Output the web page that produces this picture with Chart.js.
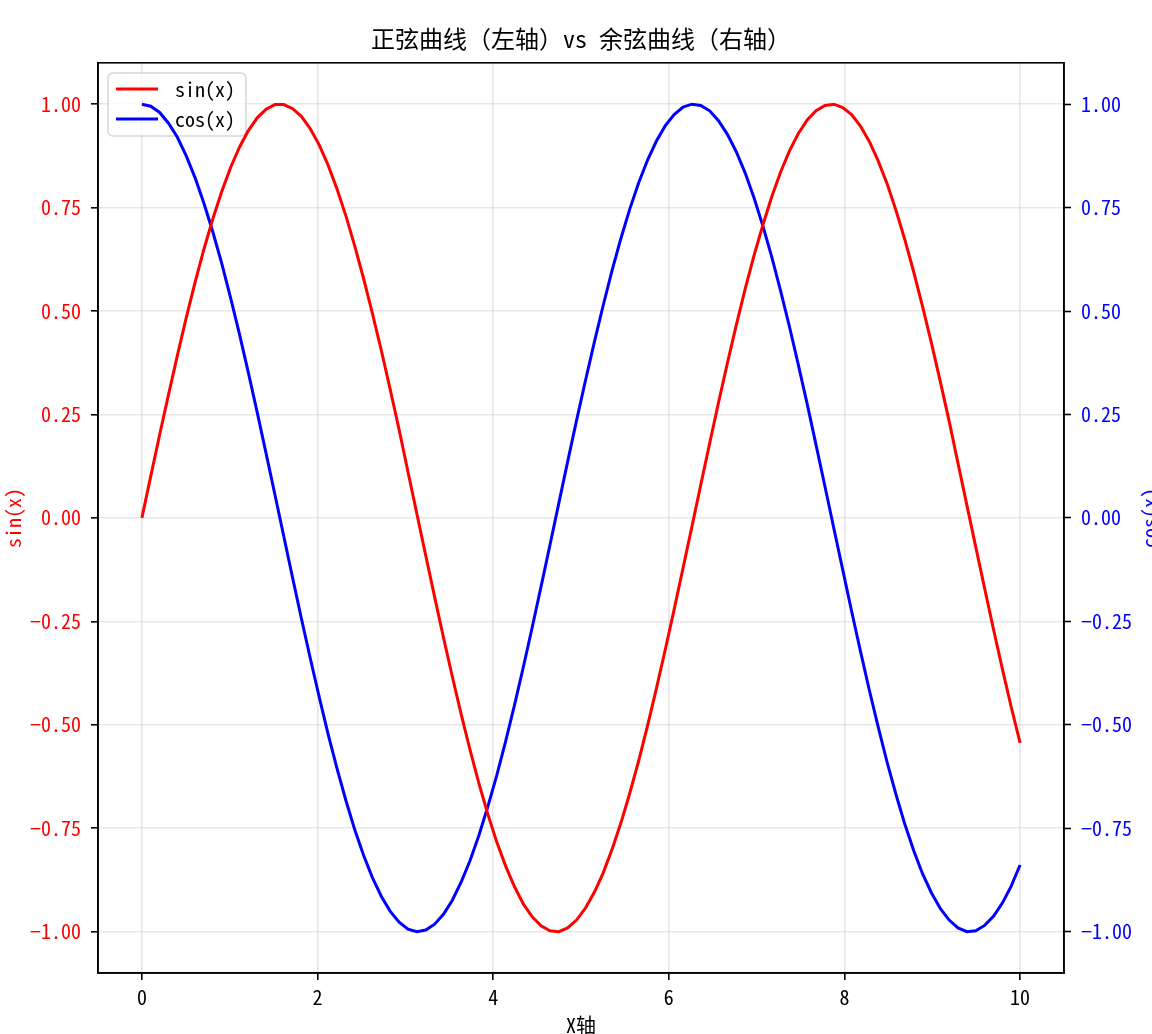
<!DOCTYPE html>
<html>
<head>
<meta charset="utf-8">
<script src="https://cdn.jsdelivr.net/npm/chart.js@4.4.1/dist/chart.umd.min.js"></script>
<style>
html,body{margin:0;padding:0;background:#fff;overflow:hidden;}
canvas{display:block;}
</style>
</head>
<body>
<canvas id="c" width="1152" height="1034"></canvas>
<script>
const titleText = '正弦曲线（左轴）vs 余弦曲线（右轴）';
const xLabel = 'X轴';
const sinLabel = 'sin(x)';
const cosLabel = 'cos(x)';

const xValues = [
0.000,0.101,0.202,0.303,0.404,0.505,0.606,0.707,0.808,0.909,
1.010,1.111,1.212,1.313,1.414,1.515,1.616,1.717,1.818,1.919,
2.020,2.121,2.222,2.323,2.424,2.525,2.626,2.727,2.828,2.929,
3.030,3.131,3.232,3.333,3.434,3.535,3.636,3.737,3.838,3.939,
4.040,4.141,4.242,4.343,4.444,4.545,4.646,4.747,4.848,4.949,
5.051,5.152,5.253,5.354,5.455,5.556,5.657,5.758,5.859,5.960,
6.061,6.162,6.263,6.364,6.465,6.566,6.667,6.768,6.869,6.970,
7.071,7.172,7.273,7.374,7.475,7.576,7.677,7.778,7.879,7.980,
8.081,8.182,8.283,8.384,8.485,8.586,8.687,8.788,8.889,8.990,
9.091,9.192,9.293,9.394,9.495,9.596,9.697,9.798,9.899,10.000];

const sinValues = [
0.000,0.101,0.201,0.298,0.393,0.484,0.570,0.650,0.723,0.789,
0.847,0.896,0.936,0.967,0.988,0.999,0.999,0.989,0.970,0.940,
0.901,0.852,0.795,0.730,0.657,0.578,0.493,0.404,0.310,0.213,
0.111,0.010,-0.091,-0.191,-0.289,-0.384,-0.475,-0.561,-0.642,-0.716,
-0.783,-0.841,-0.891,-0.933,-0.964,-0.986,-0.998,-1.000,-0.991,-0.972,
-0.943,-0.905,-0.858,-0.801,-0.737,-0.665,-0.587,-0.502,-0.412,-0.318,
-0.221,-0.121,-0.021,0.080,0.180,0.279,0.374,0.466,0.553,0.634,
0.708,0.776,0.836,0.887,0.929,0.962,0.984,0.997,1.000,0.992,
0.975,0.947,0.910,0.863,0.808,0.744,0.673,0.595,0.511,0.423,
0.330,0.234,0.132,0.031,-0.070,-0.170,-0.269,-0.365,-0.457,-0.544];

const cosValues = [
1.000,0.995,0.980,0.954,0.920,0.875,0.822,0.760,0.691,0.615,
0.532,0.444,0.351,0.255,0.156,0.056,-0.045,-0.146,-0.245,-0.341,
-0.434,-0.523,-0.606,-0.683,-0.754,-0.816,-0.870,-0.915,-0.951,-0.977,
-0.994,-1.000,-0.996,-0.982,-0.958,-0.924,-0.880,-0.828,-0.767,-0.698,
-0.623,-0.541,-0.453,-0.361,-0.265,-0.166,-0.066,0.035,0.136,0.235,
0.332,0.425,0.514,0.598,0.676,0.747,0.810,0.865,0.911,0.948,
0.975,0.993,1.000,0.997,0.984,0.960,0.927,0.885,0.834,0.774,
0.706,0.631,0.549,0.462,0.370,0.275,0.176,0.076,-0.025,-0.125,
-0.225,-0.322,-0.416,-0.505,-0.590,-0.668,-0.740,-0.804,-0.860,-0.906,
-0.944,-0.972,-0.991,-1.000,-0.998,-0.985,-0.963,-0.931,-0.890,-0.839];

const FONT = "'Noto Sans Mono CJK SC', 'Noto Sans CJK SC', sans-serif";
Chart.defaults.font.family = FONT;
Chart.defaults.color = '#000';

const GRID = 'rgba(176,176,176,0.3)';
const fmt = v => v.toFixed(2).replace('-', '\u2212');

const extras = {
  id: 'extras',
  beforeDatasetsDraw(chart) {
    const ctx = chart.ctx;
    const x0 = 108, y0 = 73, w = 138, h = 63, r = 5;
    ctx.save();
    ctx.beginPath();
    ctx.roundRect(x0, y0, w, h, r);
    ctx.fillStyle = 'rgba(255,255,255,0.8)';
    ctx.fill();
    ctx.lineWidth = 1.5;
    ctx.strokeStyle = 'rgba(204,204,204,0.8)';
    ctx.stroke();
    const items = [[sinLabel, 'red', 89], [cosLabel, 'blue', 119]];
    ctx.font = '20px ' + FONT;
    ctx.textBaseline = 'middle';
    ctx.textAlign = 'left';
    items.forEach(([t, c, y]) => {
      ctx.beginPath();
      ctx.moveTo(116, y); ctx.lineTo(158, y);
      ctx.strokeStyle = c; ctx.lineWidth = 3;
      ctx.stroke();
      ctx.fillStyle = '#000';
      ctx.fillText(t, 175, y);
    });
    ctx.restore();
  },
  afterDraw(chart) {
    const ctx = chart.ctx;
    const a = chart.chartArea;
    ctx.save();
    ctx.strokeStyle = '#000';
    ctx.lineWidth = 1.6;
    ctx.strokeRect(a.left, a.top, a.right - a.left, a.bottom - a.top);
    ctx.translate(1149, (a.top + a.bottom) / 2);
    ctx.rotate(-Math.PI / 2);
    ctx.font = '20px ' + FONT;
    ctx.fillStyle = 'blue';
    ctx.textAlign = 'center';
    ctx.textBaseline = 'middle';
    ctx.fillText(cosLabel, 0, 0);
    ctx.restore();
  }
};

new Chart(document.getElementById('c'), {
  type: 'line',
  data: {
    datasets: [
      { label: sinLabel, data: xValues.map((x, i) => ({x, y: sinValues[i]})),
        borderColor: 'red', backgroundColor: 'red', borderWidth: 3, pointRadius: 0, tension: 0, yAxisID: 'y' },
      { label: cosLabel, data: xValues.map((x, i) => ({x, y: cosValues[i]})),
        borderColor: 'blue', backgroundColor: 'blue', borderWidth: 3, pointRadius: 0, tension: 0, yAxisID: 'y1' }
    ]
  },
  options: {
    responsive: false,
    animation: false,
    devicePixelRatio: 1,
    layout: { padding: 0 },
    plugins: {
      legend: { display: false },
      tooltip: { enabled: false },
      title: { display: true, text: titleText, color: '#000', fullSize: false,
        font: { size: 24, weight: 'normal', lineHeight: 1.2 },
        padding: { top: 24, bottom: 10 } }
    },
    scales: {
      x: {
        type: 'linear', position: 'bottom', min: -0.5, max: 10.5,
        afterFit: s => { s.height = 61; },
        ticks: { stepSize: 2, includeBounds: false, autoSkip: false, maxRotation: 0,
          padding: 5, color: '#000', font: { size: 20 }, callback: v => String(v) },
        grid: { color: GRID, lineWidth: 1.6, tickColor: '#000', tickLength: 7, tickWidth: 1.6 },
        border: { color: '#000', width: 1.6 },
        title: { display: true, text: xLabel, color: '#000', font: { size: 20, lineHeight: 0.9 }, padding: { top: 0, bottom: 0 } }
      },
      y: {
        type: 'linear', position: 'left', min: -1.1, max: 1.1,
        afterFit: s => { s.width = 98; },
        ticks: { stepSize: 0.25, includeBounds: false, autoSkip: false, padding: 10,
          color: 'red', font: { size: 20 }, callback: v => fmt(v) },
        grid: { color: GRID, lineWidth: 1.6, tickColor: '#000', tickLength: 7, tickWidth: 1.6 },
        border: { color: '#000', width: 1.6 },
        title: { display: true, text: sinLabel, color: 'red', font: { size: 20, lineHeight: 1.2 }, padding: { top: 1, bottom: 0 } }
      },
      y1: {
        type: 'linear', position: 'right', min: -1.1, max: 1.1,
        afterFit: s => { s.width = 88; },
        ticks: { stepSize: 0.25, includeBounds: false, autoSkip: false, padding: 10,
          color: 'blue', font: { size: 20 }, callback: v => fmt(v) },
        grid: { drawOnChartArea: false, tickColor: '#000', tickLength: 7, tickWidth: 1.6 },
        border: { color: '#000', width: 1.6 }
      }
    }
  },
  plugins: [extras]
});
</script>
</body>
</html>
